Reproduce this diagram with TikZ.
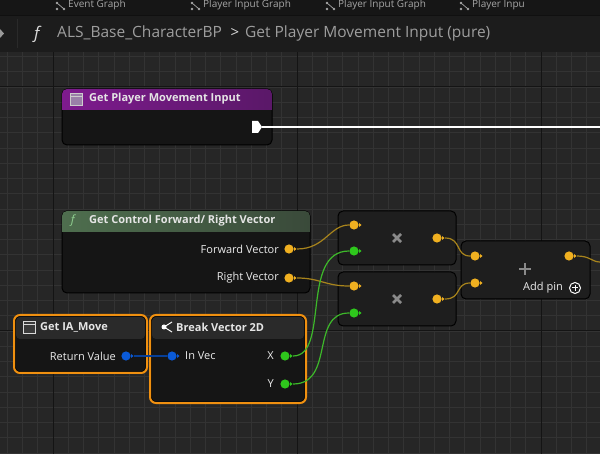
\documentclass[tikz,border=0pt]{standalone}
\usepackage{fontspec}
\setmainfont{Open Sans}
\usetikzlibrary{calc}
\definecolor{bg}{HTML}{262626}
\definecolor{minor}{HTML}{333333}
\definecolor{major}{HTML}{141414}
\definecolor{nodebg}{HTML}{151515}
\definecolor{pinY}{HTML}{F0B020}
\definecolor{pinG}{HTML}{2EC81C}
\definecolor{pinB}{HTML}{0A5AD8}
\definecolor{wireY}{HTML}{A8841C}
\definecolor{wireG}{HTML}{3DB82A}
\definecolor{orng}{HTML}{F09010}
\definecolor{tabbg}{HTML}{161616}
\definecolor{crumbbg}{HTML}{1C1C1C}
\definecolor{sepc}{HTML}{101010}
\definecolor{sepl}{HTML}{2A2A2A}
\definecolor{purA}{HTML}{7E1B8E}
\definecolor{purB}{HTML}{5A1868}
\definecolor{purI}{HTML}{9A80A8}
\definecolor{grnA}{HTML}{4E6E4E}
\definecolor{grnB}{HTML}{3A4A3A}
\definecolor{grnF}{HTML}{90D090}
\definecolor{opbg}{HTML}{1E1E1E}
\definecolor{hdrgray}{HTML}{2A2A2A}
\definecolor{icongray}{HTML}{3A3A3A}
\definecolor{opc}{HTML}{8A8A8A}
\tikzset{
  bp/.style={draw=black, fill=nodebg, rounded corners=5pt, line width=1pt},
  sel/.style={draw=orng, line width=2pt, rounded corners=6pt},
  lbl/.style={text=white!92!black, font=\fontsize{11}{12}\selectfont, inner sep=0pt},
  hdr/.style={text=white!90!black, font=\fontsize{11}{12}\selectfont\bfseries, inner sep=0pt, anchor=west},
  ywire/.style={draw=wireY, line width=1.2pt},
  gwire/.style={draw=wireG, line width=1.2pt},
  tabtxt/.style={text=white!65!black, font=\fontsize{10}{11}\selectfont, inner sep=0pt, anchor=west},
  crumb/.style={text=white!62!black, font=\fontsize{15.5}{17}\selectfont, inner sep=0pt, anchor=west},
  opline/.style={draw=opc, line width=2.6pt},
}
\newcommand{\pin}[3]{% name, pos, color
  \fill[#3] (#2) circle (4.6pt);
  \fill[#3] ($(#2)+(5,-2)$) -- ($(#2)+(7.5,0)$) -- ($(#2)+(5,2)$) -- cycle;
  \coordinate (#1) at (#2);}
\newcommand{\tabicon}[1]{%
  \fill[white!65!black] ($(#1)+(0,-2)$) circle (1.3pt) ($(#1)+(0,4)$) circle (1.3pt) ($(#1)+(7,4)$) circle (1.3pt);
  \draw[white!65!black, line width=0.7pt] ($(#1)+(0,-2)$) -- ($(#1)+(7,4)$);}
\begin{document}
\begin{tikzpicture}[x=1pt,y=-1pt]
\useasboundingbox (0,0) rectangle (600,454);
\fill[bg] (0,0) rectangle (600,454);
% grid
\foreach \i in {-3,...,36} {\draw[minor,line width=0.7pt] ({53+15.25*\i},52) -- ({53+15.25*\i},454);}
\foreach \j in {-2,...,25} {\draw[minor,line width=0.7pt] (0,{87+15.25*\j}) -- (600,{87+15.25*\j});}
\foreach \i in {0,1,2} {\draw[major,line width=1pt] ({53+244*\i},52) -- ({53+244*\i},454);}
\draw[major,line width=1pt] (0,87) -- (600,87);
\draw[major,line width=1pt] (0,331) -- (600,331);
% top bars
\fill[tabbg] (0,0) rectangle (600,15);
\fill[crumbbg] (0,15) rectangle (600,52);
\fill[sepc] (0,15) rectangle (600,16);
\fill[white!60!black] (0,29) -- (4,33.5) -- (0,38) -- cycle;
\draw[sepl] (17,19) -- (17,48);
\tabicon{57,5}
\node[tabtxt] (t1) at (68,5) {Event Graph};
\tabicon{192,5}
\node[tabtxt] (t2) at (203,5) {Player Input Graph};
\tabicon{327,5}
\node[tabtxt] (t3) at (338,5) {Player Input Graph};
\tabicon{461,5}
\node[tabtxt] (t4) at (472,5) {Player Inpu};
\node[text=white!85!black, font=\itshape\fontsize{17}{17}\selectfont, inner sep=0pt] (fn) at (37,34) {ƒ};
\node[crumb] (bc1) at (57,33) {ALS\_Base\_CharacterBP};
\node[text=white!85!black, font=\fontsize{15}{17}\selectfont, inner sep=0pt] (arr) at (235,33) {>};
\node[crumb] (bc2) at (245,33) {Get Player Movement Input (pure)};
\coordinate (execend) at (600,127);
% Node 1
\draw[bp] (62,89) rectangle (272,145);
\begin{scope}
\clip[rounded corners=5pt] (62,89) rectangle (272,145);
\shade[left color=purA, right color=purB] (62,89) rectangle (272,110);
\end{scope}
\draw[white!80!black, fill=purI, line width=0.8pt] (70,93) rectangle (82,105);
\draw[white!80!black, line width=0.8pt] (70,96) -- (82,96);
\node[hdr] (h1) at (89,99) {Get Player Movement Input};
\coordinate (exec) at (256,127);
\fill[white] ($(exec)+(-4,-6)$) -- ($(exec)+(2,-6)$) -- ($(exec)+(6,0)$) -- ($(exec)+(2,6)$) -- ($(exec)+(-4,6)$) -- cycle;
\draw[white, line width=2pt] ($(exec)+(6,0)$) -- (execend);
% Node 2
\draw[bp] (62,211) rectangle (310,293);
\begin{scope}
\clip[rounded corners=5pt] (62,211) rectangle (310,293);
\shade[left color=grnA, right color=grnB] (62,211) rectangle (310,232);
\end{scope}
\node[text=grnF, font=\itshape\fontsize{12}{12}\selectfont, inner sep=0pt] (f2) at (73,221) {ƒ};
\node[hdr] (h2) at (89,221) {Get Control Forward/ Right Vector};
\node[lbl, anchor=east] (fvl) at (279,249) {Forward Vector};
\node[lbl, anchor=east] (rvl) at (279,278) {Right Vector};
\pin{fv}{289,249}{pinY}
\pin{rv}{289,278}{pinY}
% Multiply nodes
\draw[bp, fill=opbg] (338,211) rectangle (456,265);
\draw[bp, fill=opbg] (338,272) rectangle (456,326);
\coordinate (x1) at (397,238);
\coordinate (x2) at (397,299);
\draw[opline] ($(x1)+(-4,-4)$) -- ($(x1)+(4,4)$) ($(x1)+(-4,4)$) -- ($(x1)+(4,-4)$);
\draw[opline] ($(x2)+(-4,-4)$) -- ($(x2)+(4,4)$) ($(x2)+(-4,4)$) -- ($(x2)+(4,-4)$);
\pin{m1a}{354,225}{pinY}
\pin{m1b}{354,251}{pinG}
\pin{m1o}{437,238}{pinY}
\pin{m2a}{354,286}{pinY}
\pin{m2b}{354,313}{pinG}
\pin{m2o}{437,299}{pinY}
% Add node
\draw[bp, fill=opbg] (461,241) rectangle (590,299);
\coordinate (plus) at (525,269);
\draw[opline] ($(plus)+(-6,0)$) -- ($(plus)+(6,0)$) ($(plus)+(0,-6)$) -- ($(plus)+(0,6)$);
\node[lbl, anchor=east] (addl) at (563,288) {Add pin};
\draw[white, line width=1pt] (575,288) circle (5.5pt);
\draw[white, line width=1pt] (572,288) -- (578,288) (575,285) -- (575,291);
\pin{aa}{475,256}{pinY}
\pin{ab}{475,283}{pinY}
\pin{ao}{569,256}{pinY}
\coordinate (aend) at (600,262);
% Get IA_Move
\draw[bp] (15,316) rectangle (146,372);
\fill[hdrgray, rounded corners=4pt] (16,317) rectangle (145,339);
\draw[sel] (14,315) rectangle (147,373);
\draw[white!85!black, fill=icongray, line width=0.8pt] (23,321) rectangle (35,333);
\draw[white!85!black, line width=0.8pt] (23,324) -- (35,324);
\node[hdr] (h3) at (40,327) {Get IA\_Move};
\node[lbl, anchor=east] (rvv) at (116,356) {Return Value};
\pin{ret}{126,356}{pinB}
% Break Vector 2D
\draw[bp] (151,316) rectangle (305,402);
\fill[hdrgray, rounded corners=4pt] (152,317) rectangle (304,339);
\draw[sel] (150,315) rectangle (306,403);
\fill[white] (164,327) circle (2.5pt);
\draw[white, line width=1pt] (164,327) -- (172,322) (164,327) -- (172,332);
\node[hdr] (h4) at (176,327) {Break Vector 2D};
\pin{inv}{172,356}{pinB}
\node[lbl, anchor=west] (invl) at (185,356) {In Vec};
\node[lbl, anchor=east] (xl) at (274,356) {X};
\node[lbl, anchor=east] (yl) at (274,384) {Y};
\pin{bx}{285,356}{pinG}
\pin{by}{285,384}{pinG}
% wires
\draw[ywire] ($(fv)+(8,0)$) .. controls (325,249) and (330,225) .. ($(m1a)-(5,0)$);
\draw[ywire] ($(rv)+(8,0)$) .. controls (320,278) and (325,286) .. ($(m2a)-(5,0)$);
\draw[ywire] ($(m1o)+(8,0)$) .. controls (462,238) and (455,256) .. ($(aa)-(5,0)$);
\draw[ywire] ($(m2o)+(8,0)$) .. controls (462,299) and (455,283) .. ($(ab)-(5,0)$);
\draw[ywire] ($(ao)+(8,0)$) .. controls (590,256) and (592,262) .. (aend);
\draw[gwire] ($(bx)+(8,0)$) .. controls (330,356) and (300,251) .. ($(m1b)-(5,0)$);
\draw[gwire] ($(by)+(8,0)$) .. controls (335,384) and (310,313) .. ($(m2b)-(5,0)$);
\draw[draw=pinB!70!black, line width=1.2pt] ($(ret)+(8,0)$) -- ($(inv)-(5,0)$);
\end{tikzpicture}
\end{document}
